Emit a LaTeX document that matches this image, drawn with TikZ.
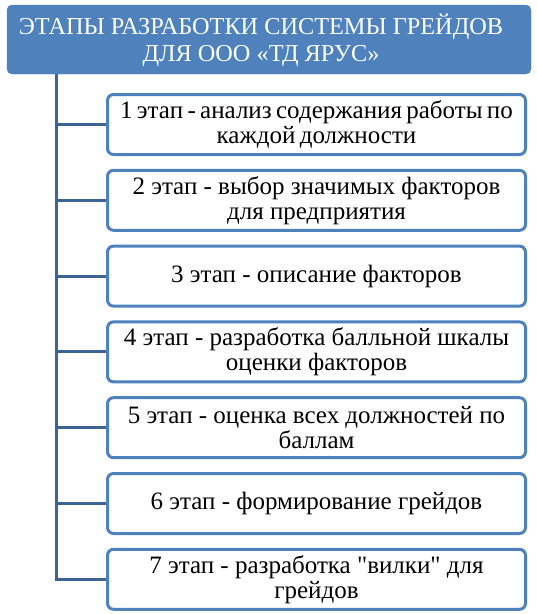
\documentclass[tikz,border=0pt]{standalone}
\usepackage{fontspec}
\newfontfamily\timesf{Liberation Serif}
\definecolor{hdrblue}{HTML}{4F81BD}
\definecolor{linkblue}{HTML}{3E6497}
\newcommand\tightsp{\spaceskip=4.4pt plus 1pt minus 1pt\relax}
\begin{document}
\begin{tikzpicture}[x=1pt,y=-1pt,
  header/.style={fill=hdrblue, draw=hdrblue, rounded corners=5pt, minimum width=524pt, minimum height=69pt, inner sep=0pt},
  headtext/.style={inner sep=0pt, align=center, text=white, font=\timesf\fontsize{24.3}{27}\selectfont},
  stagebox/.style={draw=hdrblue, line width=3pt, fill=white, rounded corners=6pt, minimum width=418pt, minimum height=60pt, inner sep=0pt, align=center, font=\timesf\fontsize{25}{25}\selectfont},
  tight/.style={execute at begin node=\tightsp},
  link/.style={draw=linkblue, line width=3pt}
]
\useasboundingbox (0,0) rectangle (537,614);
\node[header] (h) at (269,39.5) {};
\node[headtext] (ht) at (261,40) {ЭТАПЫ РАЗРАБОТКИ СИСТЕМЫ ГРЕЙДОВ\\ДЛЯ ООО «ТД ЯРУС»};
\node[stagebox, tight] (s1) at (316.5,124.5) {1 этап - анализ содержания работы по\\каждой должности};
\node[stagebox] (s2) at (316.5,200.3) {2 этап - выбор значимых факторов\\для предприятия};
\node[stagebox] (s3) at (316.5,276.1) {3 этап - описание факторов};
\node[stagebox] (s4) at (316.5,351.9) {4 этап - разработка балльной шкалы\\оценки факторов};
\node[stagebox] (s5) at (316.5,427.7) {5 этап - оценка всех должностей по\\баллам};
\node[stagebox] (s6) at (316.5,503.5) {6 этап - формирование грейдов};
\node[stagebox] (s7) at (316.5,579.3) {7 этап - разработка \char34вилки\char34{} для\\грейдов};
\coordinate (top) at (56,74);
\coordinate (bot) at (56,579.3);
\draw[link] (top) -- (bot) -- (s7.west);
\foreach \i in {1,...,6} {
  \draw[link] (56,0 |- s\i.west) -- (s\i.west);
}
\end{tikzpicture}
\end{document}
